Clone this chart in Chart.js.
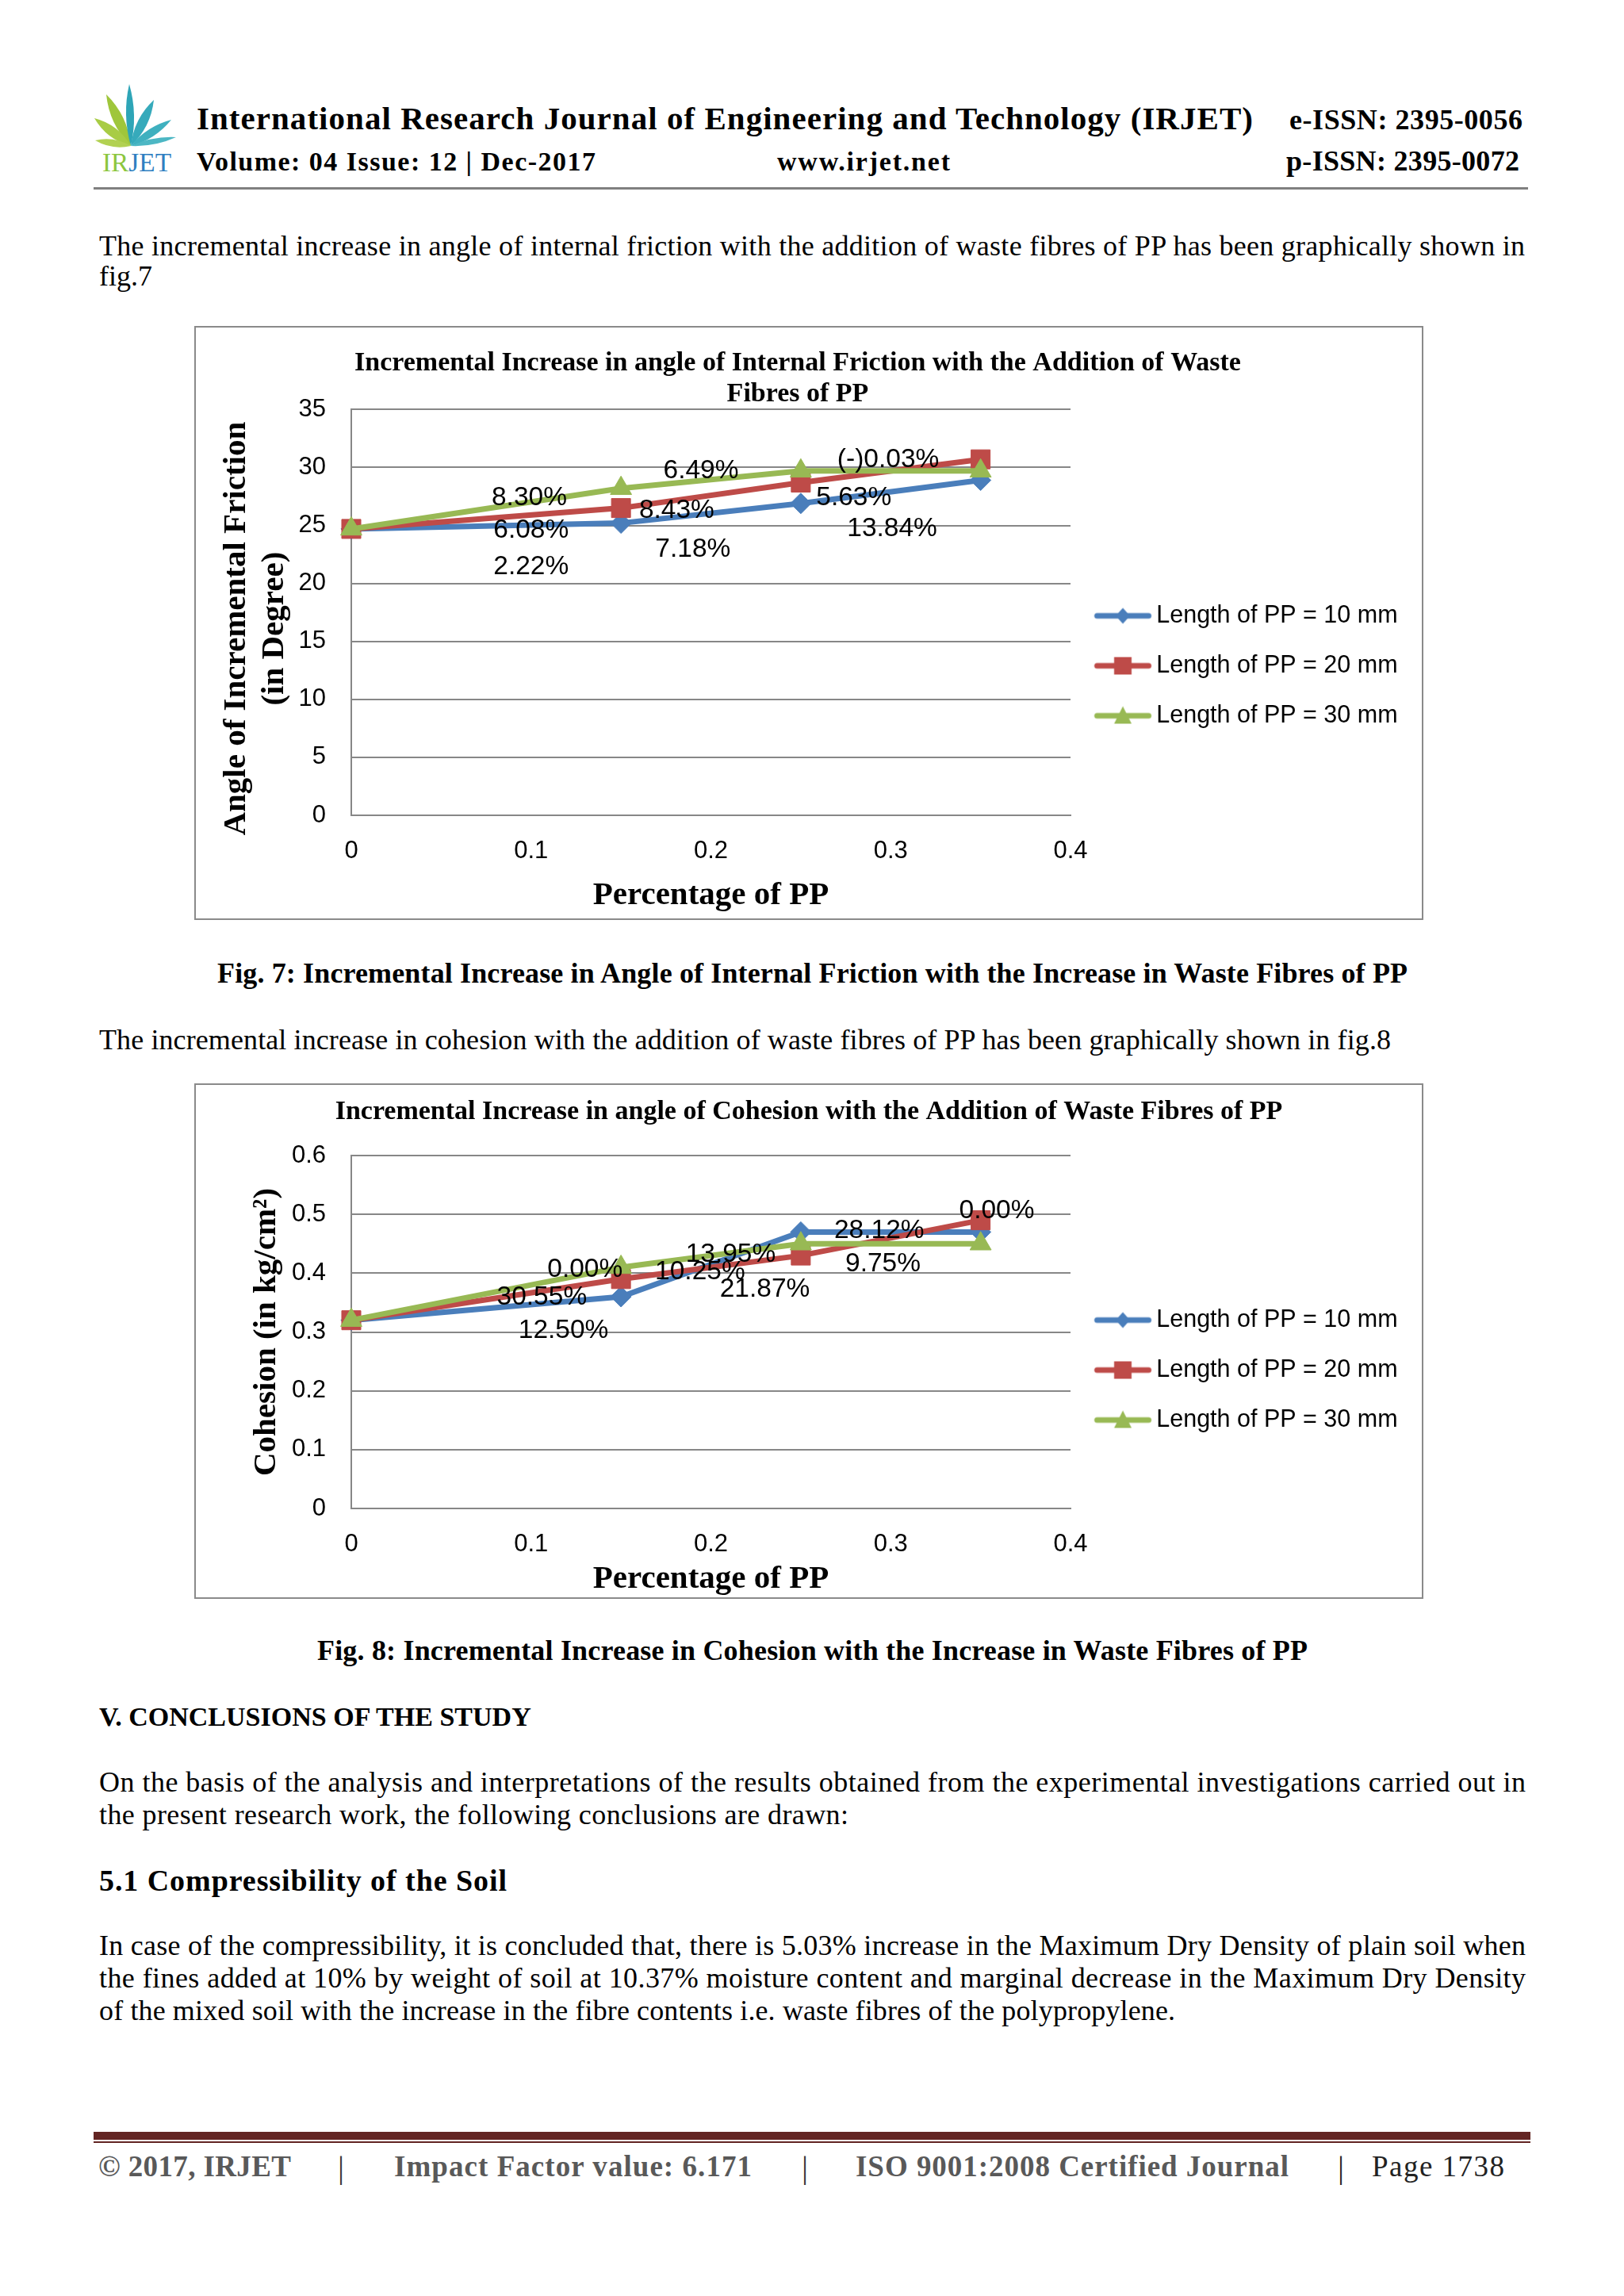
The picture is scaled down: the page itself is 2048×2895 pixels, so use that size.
<!DOCTYPE html>
<html>
<head>
<meta charset="utf-8">
<script src="https://cdn.jsdelivr.net/npm/chart.js@4.4.1/dist/chart.umd.min.js"></script>
<style>
  html, body { margin: 0; padding: 0; background: #fff; }
  body { width: 2048px; height: 2895px; position: relative; overflow: hidden; font-family: "Liberation Serif", serif; color: #000; }
  .t { position: absolute; white-space: nowrap; line-height: 1; }
  .b { font-weight: bold; }
  .g { color: #595959; }
  .rule { position: absolute; }
  canvas { position: absolute; display: block; }
</style>
</head>
<body>

<svg id="logo" style="position:absolute;left:0;top:0" width="260" height="240"></svg>

<div class="t b" data-x="248" data-b="163" data-fs="41" data-w="1332">International Research Journal of Engineering and Technology (IRJET)</div>
<div class="t b" data-x="1626" data-b="163" data-fs="36" data-w="294">e-ISSN: 2395-0056</div>
<div class="t b" data-x="248" data-b="215" data-fs="34" data-w="503">Volume: 04 Issue: 12 | Dec-2017</div>
<div class="t b" data-x="980" data-b="215" data-fs="34" data-w="218">www.irjet.net</div>
<div class="t b" data-x="1622" data-b="215" data-fs="36" data-w="294">p-ISSN: 2395-0072</div>
<div class="rule" style="left:118px;top:236px;width:1809px;height:3px;background:#808080"></div>

<div class="t" data-x="125" data-b="322" data-fs="36" data-w="1798">The incremental increase in angle of internal friction with the addition of waste fibres of PP has been graphically shown in</div>
<div class="t" data-x="125" data-b="360" data-fs="36">fig.7</div>

<canvas id="frictionChart" width="1550" height="749" style="left:245px;top:411px"></canvas>

<div class="t b" data-x="274" data-b="1239" data-fs="36" data-w="1501">Fig. 7: Incremental Increase in Angle of Internal Friction with the Increase in Waste Fibres of PP</div>
<div class="t" data-x="125" data-b="1323" data-fs="36" data-w="1629">The incremental increase in cohesion with the addition of waste fibres of PP has been graphically shown in fig.8</div>

<canvas id="cohesionChart" width="1550" height="650" style="left:245px;top:1366px"></canvas>

<div class="t b" data-x="400" data-b="2093" data-fs="36" data-w="1249">Fig. 8: Incremental Increase in Cohesion with the Increase in Waste Fibres of PP</div>
<div class="t b" data-x="125" data-b="2177" data-fs="35" data-w="545">V. CONCLUSIONS OF THE STUDY</div>
<div class="t" data-x="125" data-b="2259" data-fs="36" data-w="1799">On the basis of the analysis and interpretations of the results obtained from the experimental investigations carried out in</div>
<div class="t" data-x="125" data-b="2300" data-fs="36" data-w="945">the present research work, the following conclusions are drawn:</div>
<div class="t b" data-x="125" data-b="2384" data-fs="38" data-w="514">5.1 Compressibility of the Soil</div>
<div class="t" data-x="125" data-b="2465" data-fs="36" data-w="1799">In case of the compressibility, it is concluded that, there is 5.03% increase in the Maximum Dry Density of plain soil when</div>
<div class="t" data-x="125" data-b="2506" data-fs="36" data-w="1799">the fines added at 10% by weight of soil at 10.37% moisture content and marginal decrease in the Maximum Dry Density</div>
<div class="t" data-x="125" data-b="2547" data-fs="36" data-w="1357">of the mixed soil with the increase in the fibre contents i.e. waste fibres of the polypropylene.</div>

<div class="rule" style="left:118px;top:2688px;width:1812px;height:10px;background:#632523"></div>
<div class="rule" style="left:118px;top:2700px;width:1812px;height:2px;background:#632523"></div>
<div class="t b g" data-x="124" data-b="2744" data-fs="37" data-w="243">© 2017, IRJET</div>
<div class="t" style="color:#333" data-x="426" data-b="2746" data-fs="40">|</div>
<div class="t b g" data-x="497" data-b="2744" data-fs="37" data-w="451">Impact Factor value: 6.171</div>
<div class="t" style="color:#333" data-x="1011" data-b="2746" data-fs="40">|</div>
<div class="t b g" data-x="1079" data-b="2744" data-fs="37" data-w="546">ISO 9001:2008 Certified Journal</div>
<div class="t" style="color:#222" data-x="1687" data-b="2746" data-fs="40">|</div>
<div class="t" style="color:#222" data-x="1730" data-b="2744" data-fs="37" data-w="167">Page 1738</div>

<script>
// ---- data ----
const pctPP = [0, 0.15, 0.25, 0.35];
const seriesNames = ['Length of PP = 10 mm', 'Length of PP = 20 mm', 'Length of PP = 30 mm'];
const xTickText = ['0', '0.1', '0.2', '0.3', '0.4'];

const frictionTickText = ['0', '5', '10', '15', '20', '25', '30', '35'];
const friction10 = [24.7, 25.2, 26.9, 28.9];
const friction20 = [24.7, 26.5, 28.7, 30.7];
const friction30 = [24.7, 28.2, 29.7, 29.7];
const frictionNotes = ['8.30%', '6.08%', '2.22%', '6.49%', '8.43%', '7.18%', '(-)0.03%', '5.63%', '13.84%'];
const frictionNoteX = [0.099, 0.100, 0.100, 0.1945, 0.181, 0.190, 0.2986, 0.2795, 0.3008];
const frictionNoteY = [27.4, 24.6, 21.45, 29.7, 26.26, 22.96, 30.69, 27.38, 24.71];

const cohesionTickText = ['0', '0.1', '0.2', '0.3', '0.4', '0.5', '0.6'];
const cohesion10 = [0.32, 0.36, 0.47, 0.47];
const cohesion20 = [0.32, 0.39, 0.43, 0.49];
const cohesion30 = [0.32, 0.41, 0.45, 0.45];
const cohesionNotes = ['0.00%', '30.55%', '12.50%', '13.95%', '10.25%', '21.87%', '28.12%', '9.75%', '0.00%'];
const cohesionNoteX = [0.130, 0.106, 0.118, 0.211, 0.194, 0.230, 0.2936, 0.2957, 0.359];
const cohesionNoteY = [0.406, 0.359, 0.302, 0.432, 0.4015, 0.373, 0.472, 0.416, 0.506];

const BLUE = '#4A7EBB', RED = '#BE4B48', GREEN = '#98B954', GRID = '#878787';

// ---- page text placement ----
document.querySelectorAll('.t').forEach(el => {
  const fs = +el.dataset.fs;
  let size = fs;
  el.style.fontSize = fs + 'px';
  el.style.left = el.dataset.x + 'px';
  if (el.dataset.w) {
    const W = +el.dataset.w;
    const w = el.getBoundingClientRect().width;
    if (w > W) {
      size = fs * W / w;
      el.style.fontSize = size + 'px';
    } else {
      el.style.letterSpacing = ((W - w) / (el.textContent.length - 1)) + 'px';
    }
  }
  el.style.top = (+el.dataset.b - 0.8375 * size) + 'px';
});

// ---- logo ----
(function () {
  const svg = document.getElementById('logo');
  const bx = 165, by = 184;
  const leaves = [
    [134, 119, 13, '#9fc63b'], [119, 149, 12, '#a8cc45'], [120, 177, 9, '#b2d152'],
    [163, 106, 10, '#2ea5b7'], [194, 126, 12, '#36aabb'], [216, 151, 10, '#3fb0bf'], [222, 173, 7, '#4cb7c4']
  ];
  let s = '';
  leaves.forEach(([tx, ty, w, c]) => {
    const dx = tx - bx, dy = ty - by, len = Math.hypot(dx, dy);
    const nx = -dy / len * w, ny = dx / len * w;
    const mx = (bx + tx) / 2, my = (by + ty) / 2;
    s += `<path d="M${bx} ${by} Q${mx + nx} ${my + ny} ${tx} ${ty} Q${mx - nx} ${my - ny} ${bx} ${by}Z" fill="${c}"/>`;
  });
  s += `<text x="129" y="216" font-family="Liberation Serif" font-size="33" textLength="87" lengthAdjust="spacingAndGlyphs"><tspan fill="#8cc63e">IR</tspan><tspan fill="#2f7fc1">JET</tspan></text>`;
  svg.innerHTML = s;
})();

// ---- chart helpers ----
function legendIcon(color, shape) {
  const c = document.createElement('canvas');
  c.width = 80; c.height = 32;
  const g = c.getContext('2d');
  g.strokeStyle = color; g.fillStyle = color;
  g.lineWidth = 7; g.lineCap = 'round';
  g.beginPath(); g.moveTo(10.75, 16); g.lineTo(75.75, 16); g.stroke();
  const cx = 43.25, cy = 16;
  g.beginPath();
  if (shape === 'rectRot') {
    g.moveTo(cx, cy - 10); g.lineTo(cx + 9, cy); g.lineTo(cx, cy + 10); g.lineTo(cx - 9, cy);
  } else if (shape === 'rect') {
    g.rect(cx - 11, cy - 11, 22, 22);
  } else {
    g.moveTo(cx, cy - 12); g.lineTo(cx + 11, cy + 10); g.lineTo(cx - 11, cy + 10);
  }
  g.closePath(); g.fill();
  return c;
}

const legendWidthPlugin = {
  id: 'legendWidth',
  beforeLayout(chart, args, opts) {
    const lg = chart.legend;
    if (!lg || lg._fixedWidth) return;
    const fit = lg.fit.bind(lg);
    lg.fit = function () { fit(); this.width = opts.width; };
    lg._fixedWidth = true;
  }
};

const notesPlugin = {
  id: 'notes',
  afterDatasetsDraw(chart, args, opts) {
    const { ctx, scales: { x, y } } = chart;
    ctx.save();
    ctx.font = '33.5px "Liberation Sans"';
    ctx.fillStyle = '#000';
    ctx.textAlign = 'center';
    ctx.textBaseline = 'middle';
    opts.text.forEach((t, i) => {
      ctx.fillText(t, x.getPixelForValue(opts.x[i]), y.getPixelForValue(opts.y[i]));
    });
    ctx.restore();
  }
};

const framePlugin = {
  id: 'frame',
  afterDraw(chart) {
    const ctx = chart.ctx;
    ctx.save();
    ctx.strokeStyle = '#8a8a8a';
    ctx.lineWidth = 2;
    ctx.strokeRect(1, 1, chart.width - 2, chart.height - 2);
    ctx.restore();
  }
};

const markers = ['rectRot', 'rect', 'triangle'];
const markerSize = [13, 17, 15.5];
const colors = [BLUE, RED, GREEN];

function makeDatasets(series) {
  return series.map((vals, i) => ({
    label: seriesNames[i],
    data: pctPP.map((p, j) => ({ x: p, y: vals[j] })),
    borderColor: colors[i],
    backgroundColor: colors[i],
    pointBackgroundColor: colors[i],
    pointBorderColor: colors[i],
    borderWidth: 7,
    pointStyle: markers[i],
    pointRadius: markerSize[i],
    pointBorderWidth: 1,
    clip: false,
    order: 2 - i
  }));
}

function makeChart(id, o) {
  return new Chart(document.getElementById(id), {
    type: 'line',
    data: { datasets: makeDatasets(o.series) },
    plugins: [legendWidthPlugin, notesPlugin, framePlugin],
    options: {
      responsive: false,
      animation: false,
      events: [],
      layout: { padding: { left: 0, right: o.padRight, top: 0, bottom: 0 } },
      plugins: {
        tooltip: { enabled: false },
        title: {
          display: true,
          text: o.title,
          color: '#000',
          font: { family: 'Liberation Serif', size: 34, weight: 'bold', lineHeight: 1.13 },
          padding: o.titlePad
        },
        legend: {
          position: 'right',
          title: { display: true, text: ' ', font: { size: 10, lineHeight: 1 }, padding: { top: 0, bottom: o.legendShift } },
          labels: {
            usePointStyle: true,
            pointStyleWidth: 60.5,
            padding: 32.5,
            color: '#000',
            font: { family: 'Liberation Sans', size: 30.5 },
            generateLabels: chart => chart.data.datasets.map((ds, i) => ({
              text: ds.label,
              pointStyle: legendIcon(ds.borderColor, ds.pointStyle),
              fillStyle: ds.borderColor,
              strokeStyle: ds.borderColor,
              lineWidth: 0,
              hidden: false,
              datasetIndex: i,
              fontColor: '#000'
            }))
          }
        },
        legendWidth: { width: o.legendWidth },
        notes: { text: o.notes, x: o.noteX, y: o.noteY }
      },
      scales: {
        x: {
          type: 'linear',
          min: 0, max: 0.4,
          afterFit: s => { s.height = o.xAxisHeight; },
          grid: { display: false, drawTicks: false },
          border: { display: true, color: GRID, width: 2 },
          ticks: {
            stepSize: 0.1, padding: 27, color: '#000',
            font: { family: 'Liberation Sans', size: 31 },
            callback: (v, i) => xTickText[i]
          },
          title: {
            display: true, text: 'Percentage of PP', color: '#000',
            font: { family: 'Liberation Serif', size: 41, weight: 'bold', lineHeight: 1.2 },
            padding: { top: 0, bottom: o.xTitlePad }
          }
        },
        y: {
          min: 0, max: o.yMax,
          afterFit: s => { s.width = 198; },
          grid: { color: GRID, lineWidth: 2, drawTicks: false },
          border: { display: true, color: GRID, width: 2 },
          ticks: {
            stepSize: o.yStep, padding: 32, color: '#000',
            font: { family: 'Liberation Sans', size: 31 },
            callback: (v, i) => o.yTicks[i]
          },
          title: {
            display: true, text: o.yTitle, color: '#000',
            font: { family: 'Liberation Serif', size: 41, weight: 'bold', lineHeight: 1.18 },
            padding: { top: o.yTitlePad, bottom: 0 }
          }
        }
      }
    }
  });
}

makeChart('frictionChart', {
  series: [friction10, friction20, friction30],
  title: ['Incremental Increase in angle of Internal Friction with the Addition of Waste', 'Fibres of PP'],
  titlePad: { top: 28.5, bottom: 0 },
  padRight: 28,
  legendWidth: 417,
  legendShift: 98,
  xAxisHeight: 132,
  xTitlePad: 6,
  yMax: 35, yStep: 5, yTicks: frictionTickText,
  yTitle: ['Angle of Incremental Friction    ', '(in Degree)    '],
  yTitlePad: 29,
  notes: frictionNotes, noteX: frictionNoteX, noteY: frictionNoteY
});

makeChart('cohesionChart', {
  series: [cohesion10, cohesion20, cohesion30],
  title: 'Incremental Increase in angle of Cohesion with the Addition of Waste Fibres of PP',
  titlePad: { top: 17.5, bottom: 35.1 },
  padRight: 0,
  legendWidth: 445,
  legendShift: 63,
  xAxisHeight: 114,
  xTitlePad: 0,
  yMax: 0.6, yStep: 0.1, yTicks: cohesionTickText,
  yTitle: 'Cohesion (in kg/cm²)',
  yTitlePad: 67,
  notes: cohesionNotes, noteX: cohesionNoteX, noteY: cohesionNoteY
});
</script>
</body>
</html>
